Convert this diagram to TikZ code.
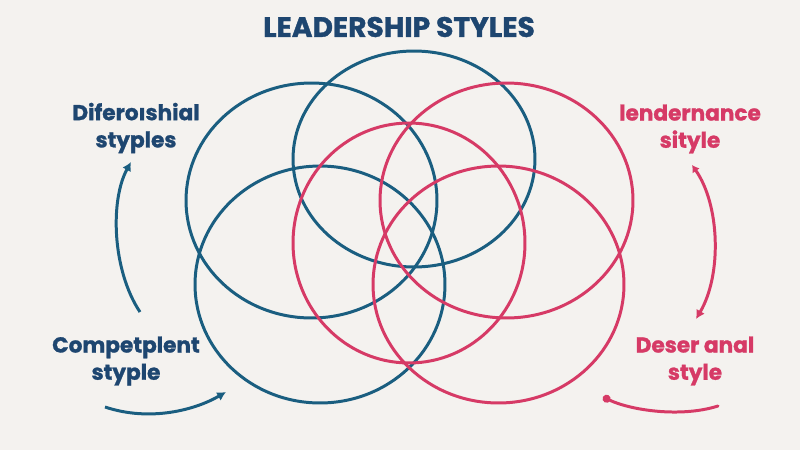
\documentclass[tikz,border=0pt]{standalone}
\usepackage{fontspec}
\setmainfont{Poppins}[BoldFeatures={FakeBold=1.2}]
\usetikzlibrary{arrows.meta}
\definecolor{bgc}{RGB}{244,242,239}
\definecolor{circblue}{RGB}{26,94,128}
\definecolor{textblue}{RGB}{30,70,112}
\definecolor{pinkc}{RGB}{214,58,102}
\begin{document}
\begin{tikzpicture}[x=0.02cm,y=-0.02cm,
  bluering/.style={draw=circblue,line width=1.7pt},
  pinkring/.style={draw=pinkc,line width=1.7pt},
  lbl/.style={font=\bfseries\fontsize{12.3}{15.5}\selectfont,align=center,inner sep=0pt},
  bluearrow/.style={draw=circblue,line width=1.7pt,-{Latex[length=5pt,width=5.5pt]}},
  pinkarrow/.style={draw=pinkc,line width=1.7pt,line cap=round}
]
\fill[bgc] (0,0) rectangle (800,450);
\useasboundingbox (0,0) rectangle (800,450);
% title
\node[font=\bfseries\fontsize{16}{18}\selectfont,text=textblue] (title) at (399,27) {LEADERSHIP STYLES};
% rings
\draw[bluering] (311.5,200.5) ellipse [x radius=2.51cm,y radius=2.35cm];
\draw[bluering] (414,159) ellipse [x radius=2.42cm,y radius=2.16cm];
\draw[bluering] (320,284.5) ellipse [x radius=2.50cm,y radius=2.37cm];
\draw[pinkring] (506.5,200.5) ellipse [x radius=2.53cm,y radius=2.35cm];
\draw[pinkring] (409,243) ellipse [x radius=2.32cm,y radius=2.40cm];
\draw[pinkring] (498.5,284.5) ellipse [x radius=2.51cm,y radius=2.37cm];
% labels
\node[lbl,text=textblue] (dif) at (136,128) {Diferoıshial\\styples};
\node[lbl,text=textblue] (comp) at (126,361) {Competplent\\styple};
\node[lbl,text=pinkc] (lend) at (690,129) {lendernance\\sityle};
\node[lbl,text=pinkc] (des) at (695,361) {Deser anal\\style};
% arrow ends
\coordinate (a1s) at (140,312);
\coordinate (a1e) at (131,162);
\coordinate (a2s) at (105,407);
\coordinate (a2e) at (226,392);
\coordinate (a3s) at (692,165);
\coordinate (a3e) at (696,319);
\coordinate (a4s) at (603,397);
\coordinate (a4e) at (718,406);
\draw[bluearrow] (a1s) .. controls (112,270) and (110,200) .. (a1e);
\draw[bluearrow] (a2s) .. controls (150,422) and (195,410) .. (a2e);
\draw[pinkarrow,{Latex[length=4pt,width=5pt]}-{Latex[length=5pt,width=5.5pt]}] (a3s) .. controls (720,205) and (722,275) .. (a3e);
\draw[pinkarrow,{Circle[length=4.5pt]}-] (a4s) .. controls (630,410) and (680,418) .. (a4e);
\end{tikzpicture}
\end{document}
